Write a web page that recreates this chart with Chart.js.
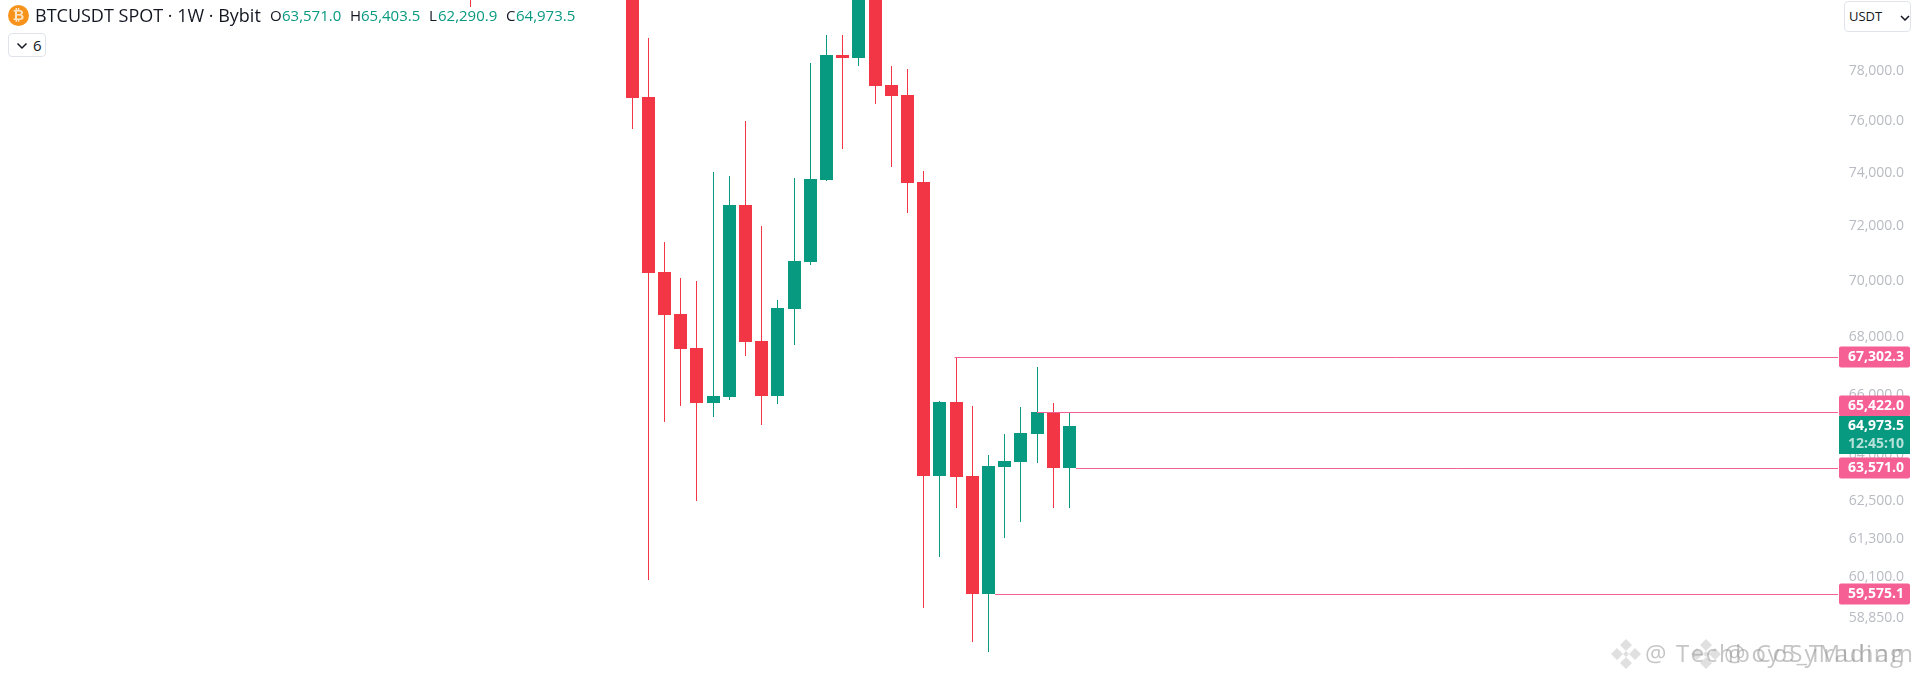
<!DOCTYPE html>
<html>
<head>
<meta charset="utf-8">
<title>BTCUSDT SPOT 1W Bybit</title>
<script src="https://cdn.jsdelivr.net/npm/chart.js@4/dist/chart.umd.min.js"></script>
<style>
  html, body { margin: 0; padding: 0; background: #fff; overflow: hidden; }
  #wrap { position: relative; width: 1915px; height: 679px; font-family: "Open Sans", sans-serif; }
  #wrap span, #wrap div { position: absolute; white-space: nowrap; }
  .coin { left: 8px; top: 5px; width: 21px; height: 21px; border-radius: 50%; background: #f7931a; color: #fde6c8;
          font: bold 14px/21px "DejaVu Sans", sans-serif; text-align: center; }
  .title { left: 35px; top: 3px; font-size: 18px; line-height: 25px; color: #131722; }
  .ohlc { top: 5px; font-size: 15px; line-height: 20px; color: #089981; }
  .ohlc.k { color: #131722; }
  .btn { box-sizing: border-box; border: 1px solid #e0e3eb; border-radius: 4px; background: #fff; color: #131722; }
  .wm { font-size: 24px; line-height: 30px; color: rgba(150,150,150,.55); top: 638px; filter: blur(.5px); }
</style>
</head>
<body>
<div id="wrap">
  <canvas id="myChart" width="1915" height="679" style="position:absolute;left:0;top:0"></canvas>
  <div class="coin">₿</div>
  <span class="title">BTCUSDT SPOT · 1W · Bybit</span>
  <span class="ohlc k" style="left:270px">O</span><span class="ohlc" style="left:282px">63,571.0</span>
  <span class="ohlc k" style="left:350px">H</span><span class="ohlc" style="left:361px">65,403.5</span>
  <span class="ohlc k" style="left:429px">L</span><span class="ohlc" style="left:438px">62,290.9</span>
  <span class="ohlc k" style="left:506px">C</span><span class="ohlc" style="left:516px">64,973.5</span>
  <div class="btn" style="left:8px;top:33px;width:38px;height:24px;font-size:15px;line-height:22px;padding-left:24px;box-sizing:border-box">6
    <svg width="12" height="8" style="position:absolute;left:7px;top:8px"><path d="M1.5 1.5 L6 6 L10.5 1.5" fill="none" stroke="#131722" stroke-width="1.5"/></svg>
  </div>
  <div class="btn" style="left:1844px;top:1px;width:67px;height:31px;font-size:13px;line-height:29px;padding-left:4px">USDT
    <svg width="10" height="6" style="position:absolute;left:55px;top:13px"><path d="M1 1 L5 5 L9 1" fill="none" stroke="#131722" stroke-width="1.5"/></svg>
  </div>
  <svg width="32" height="32" style="position:absolute;left:1610px;top:638px;opacity:.3"><path d="M16 1 L22 7 L16 13 L10 7 Z M7 10 L13 16 L7 22 L1 16 Z M25 10 L31 16 L25 22 L19 16 Z M16 19 L22 25 L16 31 L10 25 Z M16 13 L19 16 L16 19 L13 16 Z" fill="#999"/></svg>
  <span class="wm" style="left:1645px;letter-spacing:1.6px">@ Techboy5_Trading</span>
  <svg width="32" height="32" style="position:absolute;left:1690px;top:638px;opacity:.3"><path d="M16 1 L22 7 L16 13 L10 7 Z M7 10 L13 16 L7 22 L1 16 Z M25 10 L31 16 L25 22 L19 16 Z M16 19 L22 25 L16 31 L10 25 Z M16 13 L19 16 L16 19 L13 16 Z" fill="#999"/></svg>
  <span class="wm" style="left:1724px;letter-spacing:2px">@ CoSyMuhammad</span>
</div>
<script>
// weekly candles, index 0 is the first one with a body on screen
const candleIndex = [-10, 0, 1, 2, 3, 4, 5, 6, 7, 8, 9, 10, 11, 12, 13, 14, 15, 16, 17, 18, 19, 20, 21, 22, 23, 24, 25, 26, 27];
const opens  = [84500, 83000, 76949, 70322, 68819, 67625, 65749, 65952, 72789, 67870, 65986, 69007, 70696, 73743, 78630, 78521, 81500, 77425, 77028, 73656, 63325, 65773, 63315, 59575.1, 63618, 63782, 64708, 65422, 63571];
const highs  = [85000, 84000, 79321, 71416, 70106, 69998, 74036, 73884, 76004, 72007, 69317, 73807, 78307, 79444, 79444, 82500, 82800, 78186, 78065, 74074, 65806, 67302.3, 65637, 64003, 64698, 65603, 66968, 65739, 65403.5];
const lows   = [80596, 75692, 60025, 65109, 65647, 62515, 65277, 65850, 67358, 65009, 65715, 67740, 70587, 73694, 74929, 78198, 76684, 74238, 72501, 59167, 60741, 62291, 58140, 57842, 61337, 61844, 63749, 62291, 62290.9];
const closes = [82500, 76921, 70297, 68794, 67601, 65749, 65976, 72789, 67845, 65986, 69032, 70722, 73769, 78630, 78521, 81500, 77398, 77000, 73629, 63325, 65773, 63292, 59575.1, 63641, 63805, 64732, 65422, 63571, 64973.5];

// right hand price axis
const tickValues = [78000, 76000, 74000, 72000, 70000, 68000, 66000, 64000, 62500, 61300, 60100, 58850];

// horizontal levels drawn from a candle out to the axis
const levelValues = [67302.3, 65422.0, 63571.0, 59575.1];
const levelStart = [19.9, 25, 27.4, 22.4];
const levelTagShift = [0, -6.5, 0, 0];

const lastPrice = 64973.5;
const countdown = '12:45:10';

const upColor = '#089981';
const downColor = '#f23645';
const levelColor = '#f55f93';
const priceFmt = new Intl.NumberFormat('en-US', { minimumFractionDigits: 1, maximumFractionDigits: 1 });
const candleColors = opens.map((o, i) => (closes[i] >= o ? upColor : downColor));

// keep bars and level lines on whole pixels, otherwise the 1px marks go blurry
const snapMarks = {
    id: 'snapMarks',
    beforeDatasetsDraw(chart) {
        chart.getSortedVisibleDatasetMetas().forEach(meta => {
            meta.data.forEach(el => {
                if (meta.type === 'bar') {
                    el.x = Math.floor(el.x) + 0.5;
                    el.y = Math.round(el.y);
                    el.base = Math.round(el.base);
                } else {
                    el.y = Math.floor(el.y) + 0.5;
                }
            });
        });
    }
};

// coloured price tags on the axis
const priceTags = {
    id: 'priceTags',
    afterDraw(chart) {
        const ctx = chart.ctx;
        const yScale = chart.scales.y;
        const left = 1839, w = 71, textX = 1904;
        ctx.save();
        ctx.textAlign = 'right';
        ctx.textBaseline = 'middle';
        levelValues.forEach((v, i) => {
            const cy = Math.round(yScale.getPixelForValue(v) + levelTagShift[i]);
            ctx.fillStyle = levelColor;
            ctx.beginPath();
            ctx.roundRect(left, cy - 10.5, w, 21, [2, 2, 2, 2]);
            ctx.fill();
            ctx.fillStyle = '#fff';
            ctx.font = '700 14px "Open Sans"';
            ctx.fillText(priceFmt.format(v), textX, cy + 0.5);
        });
        const top = Math.round(yScale.getPixelForValue(lastPrice)) - 10;
        ctx.fillStyle = upColor;
        ctx.fillRect(left, top, w, 38);
        ctx.fillStyle = '#fff';
        ctx.font = '700 14px "Open Sans"';
        ctx.fillText(priceFmt.format(lastPrice), textX, top + 10.5);
        ctx.fillStyle = 'rgba(255,255,255,.7)';
        ctx.fillText(countdown, textX, top + 28);
        ctx.restore();
    }
};

const wickData = candleIndex.map((x, i) => ({ x: x, y: [lows[i], highs[i]] }));
const bodyData = candleIndex.map((x, i) => ({ x: x, y: [opens[i], closes[i]] }));

const levelSets = levelValues.map((v, i) => ({
    type: 'line',
    data: [{ x: levelStart[i], y: v }, { x: 200, y: v }],
    borderColor: levelColor,
    borderWidth: 1,
    pointRadius: 0,
    order: 0
}));

const config = {
    type: 'bar',
    data: {
        datasets: [
            { data: bodyData, backgroundColor: candleColors, barThickness: 13, grouped: false, inflateAmount: 0, borderWidth: 0, order: 1 },
            { data: wickData, backgroundColor: candleColors, barThickness: 1, grouped: false, inflateAmount: 0, borderWidth: 0, order: 2 },
            ...levelSets
        ]
    },
    plugins: [snapMarks, priceTags],
    options: {
        responsive: false,
        animation: false,
        layout: { padding: { left: 0, top: 0, bottom: 0, right: 11 } },
        plugins: { legend: { display: false }, tooltip: { enabled: false } },
        scales: {
            x: { type: 'linear', display: false, offset: false, min: -39.02, max: 74.44 },
            y: {
                type: 'logarithmic',
                position: 'right',
                min: 57034,
                max: 80887,
                grid: { display: false, drawTicks: false },
                border: { display: false },
                ticks: {
                    autoSkip: false,
                    crossAlign: 'far',
                    padding: 0,
                    color: '#b8bbc2',
                    font: { family: '"Open Sans"', size: 14 },
                    callback: v => priceFmt.format(v)
                },
                afterBuildTicks: s => { s.ticks = tickValues.map(v => ({ value: v })); },
                afterFit: s => { s.width = 66; s.paddingTop = 0; s.paddingBottom = 0; }
            }
        }
    }
};

var myChart = new Chart(document.getElementById('myChart'), config);
</script>
</body>
</html>
